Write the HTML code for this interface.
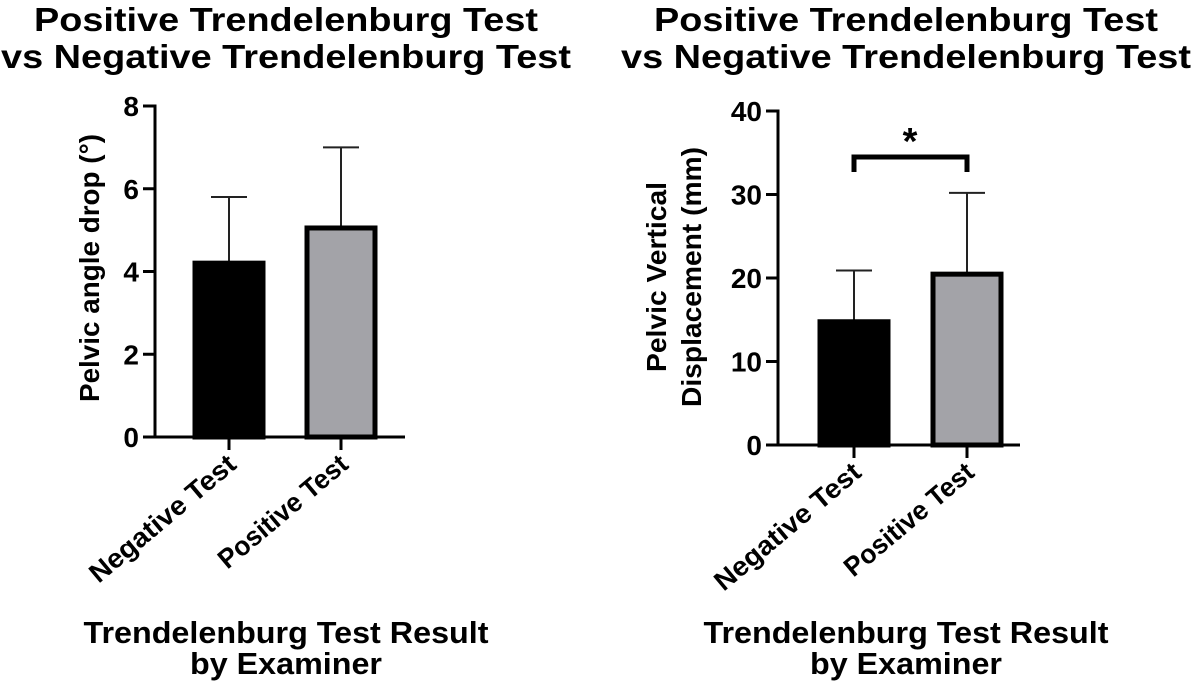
<!DOCTYPE html>
<html><head><meta charset="utf-8"><style>
html,body{margin:0;padding:0;background:#fff}
svg{display:block}
text{font-family:"Liberation Sans",Arial,sans-serif;fill:#000}
</style></head><body>
<svg id="fig" width="1200" height="682" viewBox="0 0 1200 682"></svg>
<script>
// Left chart data
const leftCategories = ["Negative Test", "Positive Test"];
const leftMeans = [4.25, 5.1];
const leftErrors = [1.55, 1.9];
const leftTicks = [0, 2, 4, 6, 8];
// Right chart data
const rightCategories = ["Negative Test", "Positive Test"];
const rightMeans = [15.0, 20.7];
const rightErrors = [5.9, 9.5];
const rightTicks = [0, 10, 20, 30, 40];

const NS = "http://www.w3.org/2000/svg";
const svg = document.getElementById("fig");
function mk(tag, attrs, parent, txt) {
  const e = document.createElementNS(NS, tag);
  for (const k in attrs) e.setAttribute(k, attrs[k]);
  if (txt !== undefined) e.textContent = txt;
  (parent || svg).appendChild(e);
  return e;
}
const fills = ["#000000", "#a3a3a8"];

function chart(cfg) {
  const g = mk("g", {});
  
  
  const ymax = cfg.ticks[cfg.ticks.length - 1];
  const y = v => cfg.y0 - (v / ymax) * (cfg.y0 - cfg.yTop);
  // title
  cfg.title.forEach((t, i) => {
    const el = mk("text", {x: cfg.titleX, y: 31 + i * 37, "text-anchor": "middle", "font-size": 33, "font-weight": "bold", textLength: i === 0 ? 504 : 570, lengthAdjust: "spacingAndGlyphs"}, g, t);
    
    
  });
  // bars
  cfg.cats.forEach((c, i) => {
    const cx = cfg.centers[i];
    const top = y(cfg.means[i]);
    const eb = y(cfg.means[i] + cfg.errs[i]);
    const ln = mk("line", {x1: cx, x2: cx, y1: top, y2: eb, stroke: "#222", "stroke-width": 2}, g);
    
    
    const cap = mk("line", {x1: cx - 18, x2: cx + 18, y1: eb, y2: eb, stroke: "#222", "stroke-width": 2}, g);
    
    
    const r = mk("rect", {x: cx - 34, y: top + 2, width: 68, height: cfg.y0 - top - 2, fill: fills[i], stroke: "#000", "stroke-width": 5}, g);
    
    
    const tk = mk("line", {x1: cx, x2: cx, y1: cfg.y0, y2: cfg.y0 + 13, stroke: "#000", "stroke-width": 3}, g);
    
    
    const lx = cx + 9, ly = cfg.y0 + 30;
    const lb = mk("text", {x: lx, y: ly, "text-anchor": "end", "font-size": 27, "font-weight": "bold", textLength: i === 0 ? 182 : 160, lengthAdjust: "spacingAndGlyphs", transform: `rotate(-40 ${lx} ${ly})`}, g, c);
    
    
  });
  // axes
  const ya = mk("line", {x1: cfg.ax, x2: cfg.ax, y1: cfg.yTop - 1.5, y2: cfg.y0 + 1.5, stroke: "#000", "stroke-width": 3}, g);
  
  
  const xa = mk("line", {x1: cfg.ax - 12, x2: cfg.xEnd, y1: cfg.y0, y2: cfg.y0, stroke: "#000", "stroke-width": 3}, g);
  
  
  cfg.ticks.forEach(t => {
    const yy = y(t);
    const tl = mk("line", {x1: cfg.ax - 12, x2: cfg.ax, y1: yy, y2: yy, stroke: "#000", "stroke-width": 3}, g);
    
    
    const tx = mk("text", {x: cfg.ax - 16, y: yy + 10, "text-anchor": "end", "font-size": 28, "font-weight": "bold"}, g, String(t));
    
    
  });
  // y title
  cfg.ylab.forEach((t, i) => {
    const px = cfg.ylabX[i], py = cfg.ylabY;
    const el = mk("text", {x: px, y: py, "text-anchor": "middle", "font-size": 28, textLength: cfg.ylabLen[i], lengthAdjust: "spacingAndGlyphs", transform: `rotate(-90 ${px} ${py})`, "font-weight": "bold"}, g, t);
    
    
  });
  // x title
  ["Trendelenburg Test Result", "by Examiner"].forEach((t, i) => {
    const el = mk("text", {x: cfg.titleX, y: 643 + i * 31, "text-anchor": "middle", "font-size": 31, "font-weight": "bold", textLength: i === 0 ? 405 : 192, lengthAdjust: "spacingAndGlyphs"}, g, t);
    
    
  });
  return {g, y};
}

chart({name: "left-chart", title: ["Positive Trendelenburg Test", "vs Negative Trendelenburg Test"], titleX: 286,
  cats: leftCategories, means: leftMeans, errs: leftErrors, ticks: leftTicks,
  centers: [229, 341], ax: 155, y0: 437, yTop: 106, xEnd: 405,
  ylab: ["Pelvic angle drop (°)"], ylabX: [99], ylabY: 268, ylabLen: [268]});

const R = chart({name: "right-chart", title: ["Positive Trendelenburg Test", "vs Negative Trendelenburg Test"], titleX: 906,
  cats: rightCategories, means: rightMeans, errs: rightErrors, ticks: rightTicks,
  centers: [854, 967], ax: 778, y0: 445, yTop: 111, xEnd: 1020,
  ylab: ["Pelvic Vertical", "Displacement (mm)"], ylabX: [666, 701], ylabY: 277, ylabLen: [190, 260]});

// significance bracket
const br = mk("polyline", {points: "854,172 854,157 967,157 967,172", fill: "none", stroke: "#000", "stroke-width": 5}, R.g);


const st = mk("text", {x: 910, y: 154, "text-anchor": "middle", "font-size": 38, "font-weight": "bold"}, R.g, "*");


</script>
</body></html>
